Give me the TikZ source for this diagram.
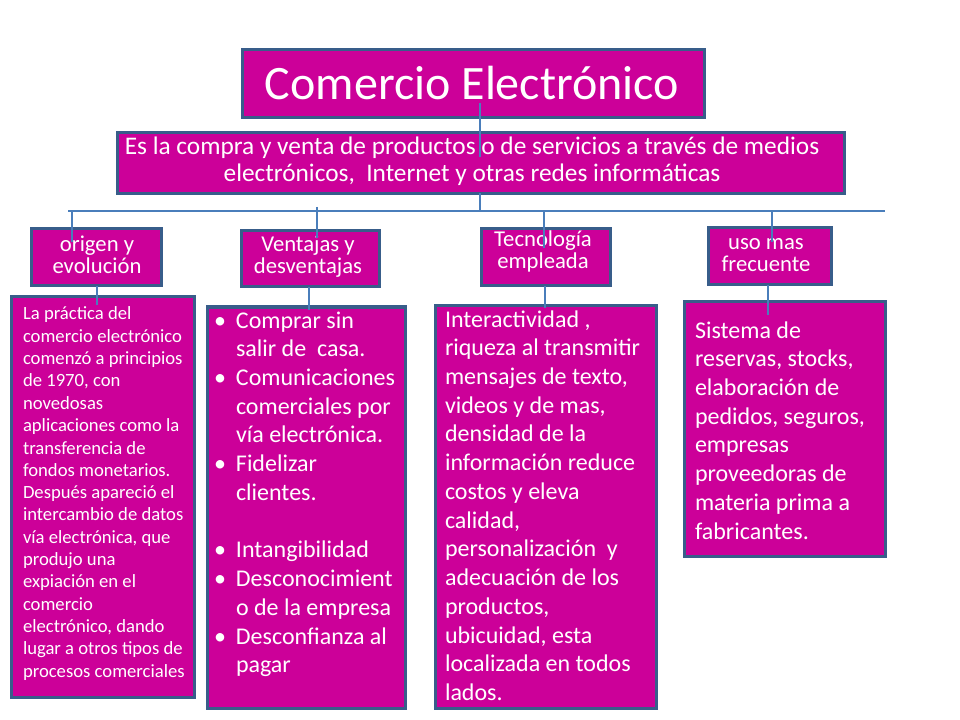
\documentclass[tikz,border=0pt]{standalone}
\usepackage{fontspec}
\setmainfont{Carlito}
\usetikzlibrary{fit}
\definecolor{mag}{RGB}{204,0,153}
\definecolor{edgeblue}{RGB}{56,93,138}
\definecolor{connblue}{RGB}{74,126,187}
\newcommand{\bul}{\leavevmode\llap{\makebox[16.5pt][l]{•}}}
\begin{document}
\begin{tikzpicture}[x=0.75pt,y=-0.75pt,
  box/.style={draw=edgeblue, fill=mag, line width=2.25pt, inner sep=0pt},
  txt/.style={text=white, inner sep=0pt, outer sep=0pt},
  conn/.style={draw=connblue, line width=0.9pt},
  smalltxt/.style={txt, font=\fontsize{17}{16.5}\selectfont, text width=120pt, align=flush center, anchor=base},
  bigtxt/.style={txt, font=\fontsize{18}{21.56}\selectfont, text width=160pt, align=flush left, anchor=base west}]
\useasboundingbox (0,0) rectangle (960,720);
\fill[white] (0,0) rectangle (960,720);
% boxes
\node[box, fit={(242,50) (704,118)}] (title) {};
\node[box, fit={(117,133) (844,194)}] (def) {};
\node[box, fit={(31,229) (161,286)}] (s1) {};
\node[box, fit={(241,231) (379,287)}] (s2) {};
\node[box, fit={(481,229) (610,286)}] (s3) {};
\node[box, fit={(708,228) (831,285)}] (s4) {};
\node[box, fit={(11,297) (194,697)}] (b1) {};
\node[box, fit={(207,307) (405,708)}] (b2) {};
\node[box, fit={(435,306) (656,708)}] (b3) {};
\node[box, fit={(684,302) (885,556)}] (b4) {};
% texts
\node[txt, font=\fontsize{36}{43}\selectfont, text width=400pt, align=flush center, anchor=base] (ttitle) at (472,100) {Comercio Electrónico};
\node[txt, font=\fontsize{19}{20.25}\selectfont, text width=600pt, align=flush center, anchor=base] (tdef) at (472,155) {Es la compra y venta de productos o de servicios a través de medios\\electrónicos,\ \ Internet y otras redes informáticas};
\node[smalltxt] (ts1) at (97,252) {origen y\\evolución};
\node[smalltxt] (ts2) at (308,252) {Ventajas y\\desventajas};
\node[smalltxt] (ts3) at (543,247) {Tecnología\\empleada};
\node[smalltxt] (ts4) at (766,250) {uso mas\\frecuente};
\node[txt, font=\fontsize{14}{16.75}\selectfont, text width=150pt, align=flush left, anchor=base west] (tb1) at (23,320) {La práctica del\\comercio electrónico\\comenzó a principios\\de 1970, con\\novedosas\\aplicaciones como la\\transferencia de\\fondos monetarios.\\Después apareció el\\intercambio de datos\\vía electrónica, que\\produjo una\\expiación en el\\comercio\\electrónico, dando\\lugar a otros tipos de\\procesos comerciales};
\node[bigtxt] (tb2) at (236,328) {\bul Comprar sin\\salir de\ \ casa.\\\bul Comunicaciones\\comerciales por\\vía electrónica.\\\bul Fidelizar\\clientes.\\[21.56pt]\bul Intangibilidad\\\bul Desconocimient\\o de la empresa\\\bul Desconfianza al\\pagar};
\node[bigtxt] (tb3) at (445,327) {Interactividad ,\\riqueza al transmitir\\mensajes de texto,\\videos y de mas,\\densidad de la\\información reduce\\costos y eleva\\calidad,\\personalización\ \ y\\adecuación de los\\productos,\\ubicuidad, esta\\localizada en todos\\lados.};
\node[bigtxt] (tb4) at (695,338) {Sistema de\\reservas, stocks,\\elaboración de\\pedidos, seguros,\\empresas\\proveedoras de\\materia prima a\\fabricantes.};
% connector coordinates
\coordinate (busL) at (68,211);
\coordinate (busR) at (885,211);
\coordinate (c1a) at (480,103); \coordinate (c1b) at (480,157);
\coordinate (c2a) at (480,193); \coordinate (c2b) at (480,211);
\coordinate (d1a) at (72,211);  \coordinate (d1b) at (72,242);
\coordinate (d2a) at (317,207); \coordinate (d2b) at (317,238);
\coordinate (d3a) at (544,211); \coordinate (d3b) at (544,248);
\coordinate (d4a) at (772,211); \coordinate (d4b) at (772,242);
\coordinate (e1a) at (97,286);  \coordinate (e1b) at (97,305);
\coordinate (e2a) at (309,287); \coordinate (e2b) at (309,310);
\coordinate (e3a) at (545,286); \coordinate (e3b) at (545,308);
\coordinate (e4a) at (768,285); \coordinate (e4b) at (768,315);
% connectors
\draw[conn] (busL) -- (busR);
\draw[conn] (c1a) -- (c1b);
\draw[conn] (c2a) -- (c2b);
\draw[conn] (d1a) -- (d1b);
\draw[conn] (d2a) -- (d2b);
\draw[conn] (d3a) -- (d3b);
\draw[conn] (d4a) -- (d4b);
\draw[conn] (e1a) -- (e1b);
\draw[conn] (e2a) -- (e2b);
\draw[conn] (e3a) -- (e3b);
\draw[conn] (e4a) -- (e4b);
\end{tikzpicture}
\end{document}
